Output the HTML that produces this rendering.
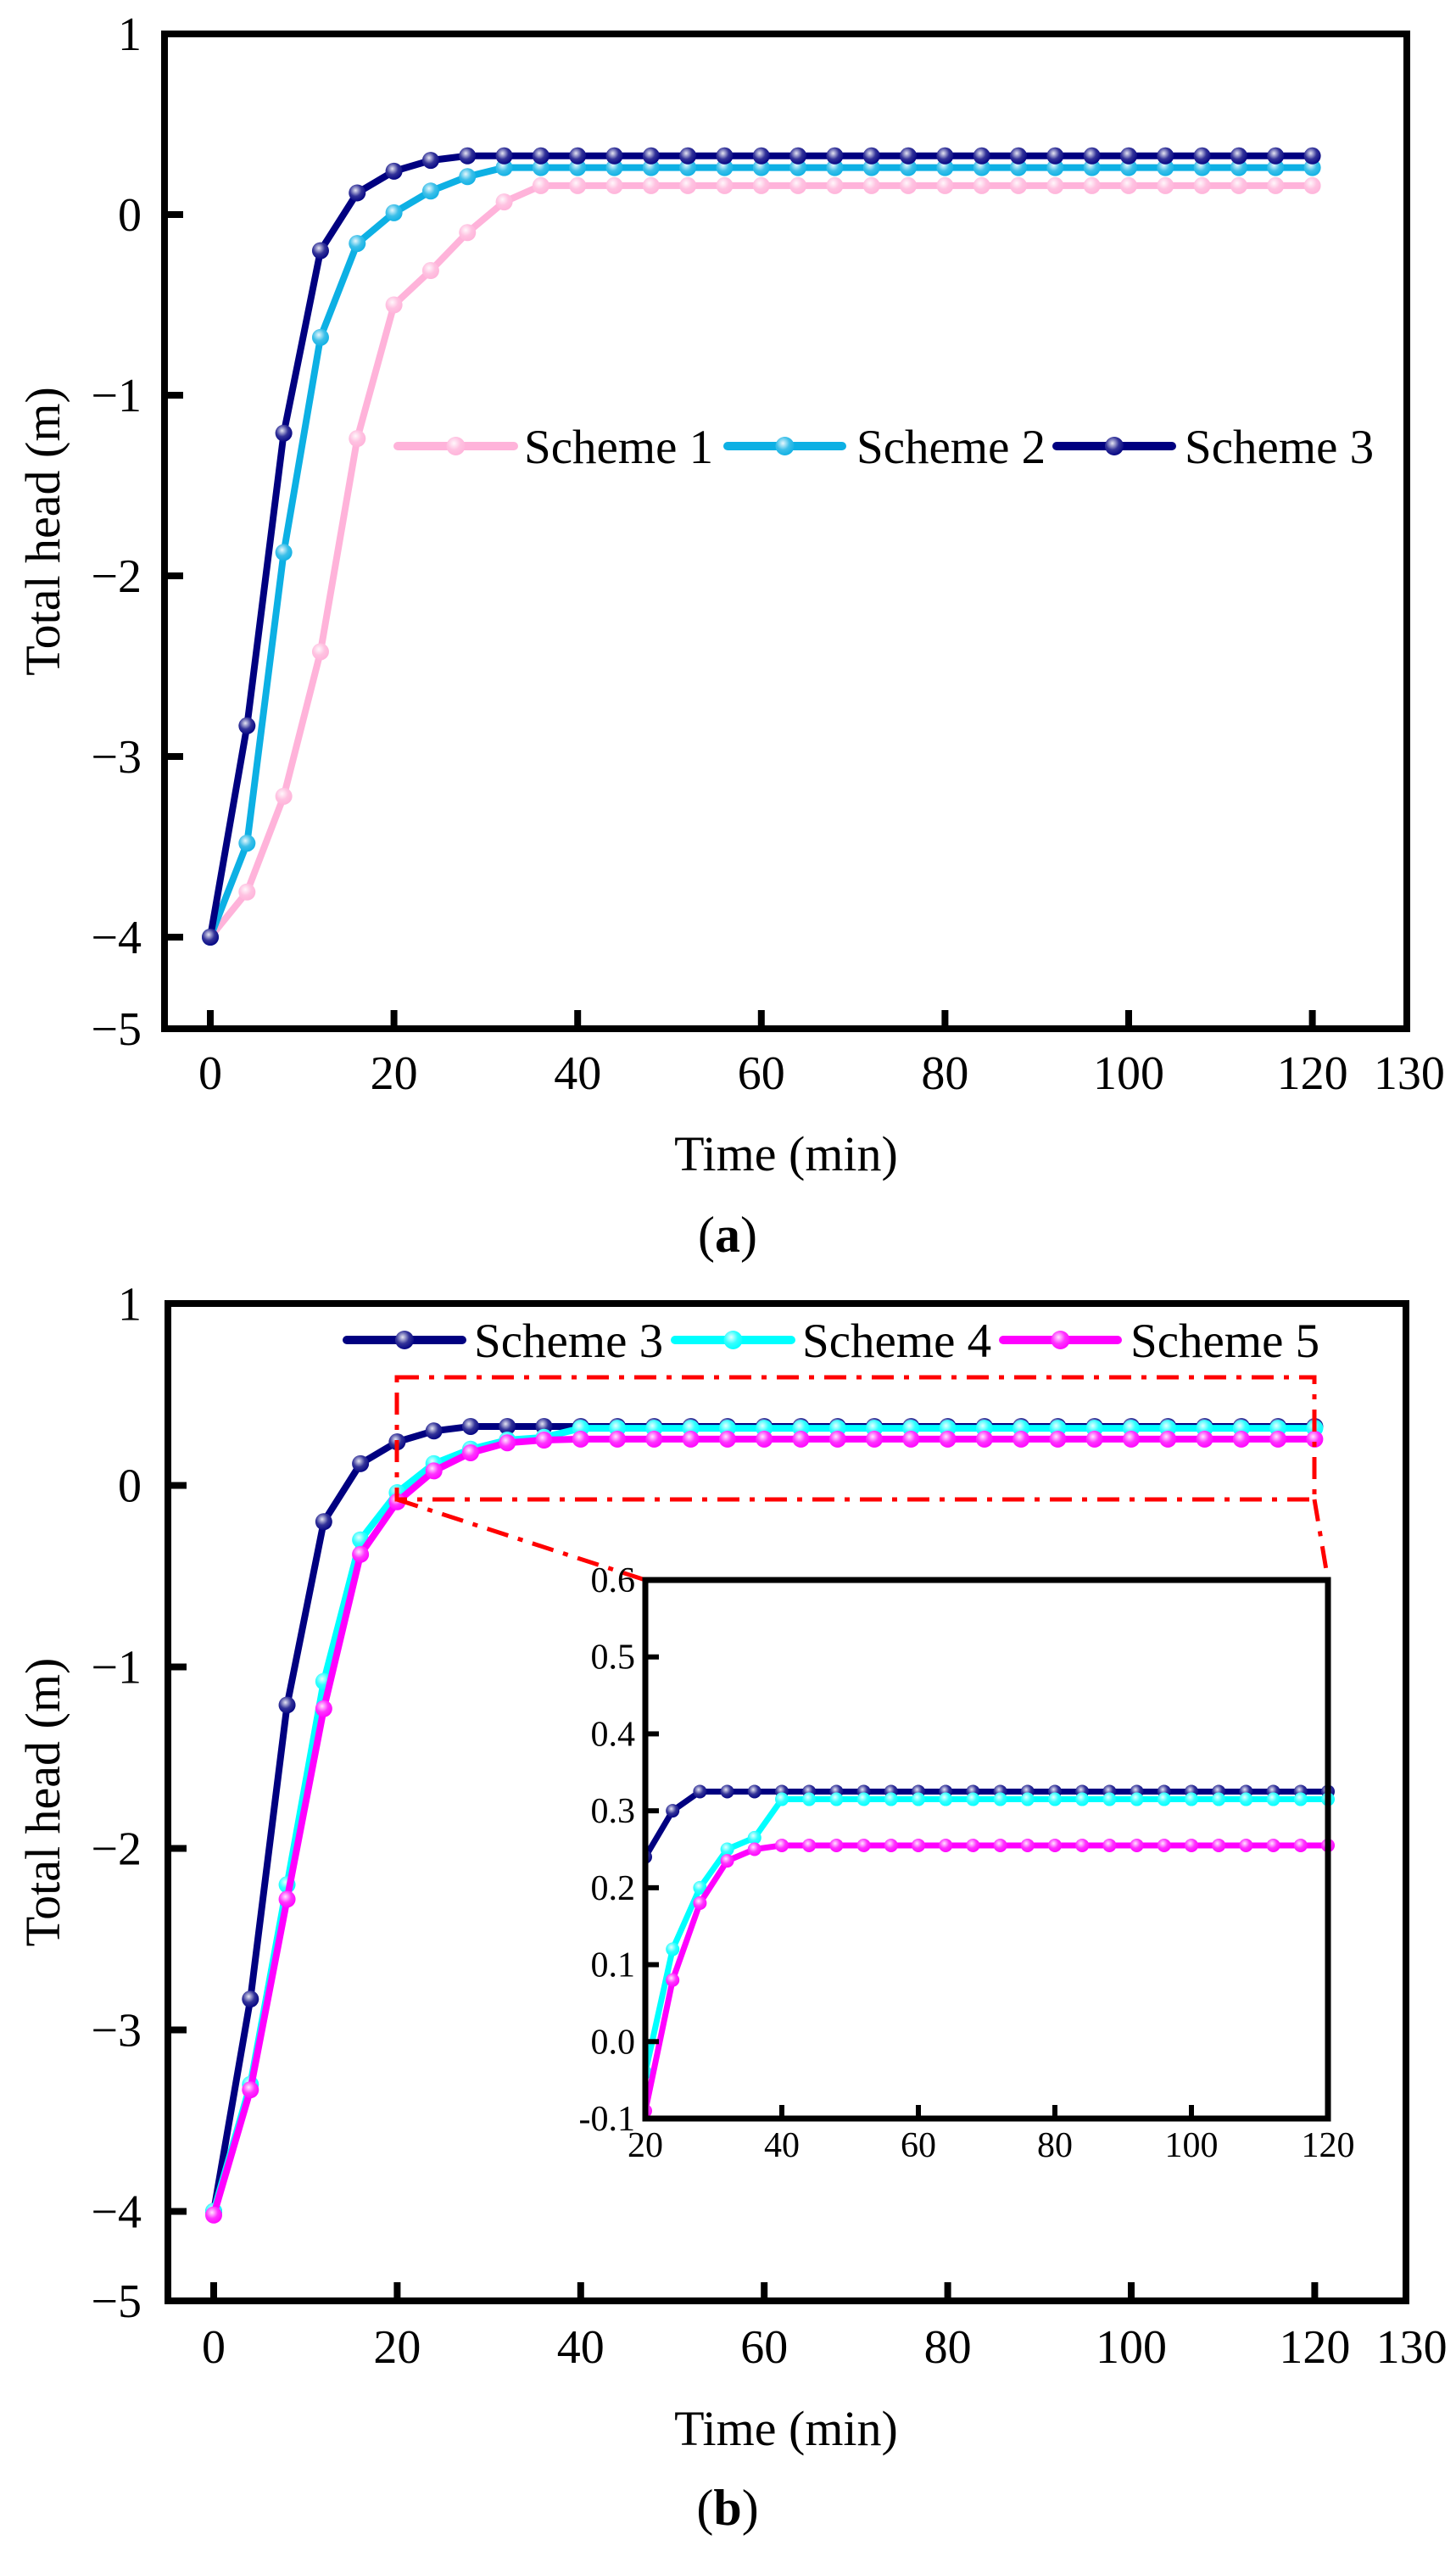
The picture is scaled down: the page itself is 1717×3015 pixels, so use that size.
<!DOCTYPE html>
<html><head><meta charset="utf-8"><style>
html,body{margin:0;padding:0;background:#fff;overflow:hidden}
svg{display:block}
text{font-family:"Liberation Serif",serif;fill:#000}
</style></head><body>
<svg id="s" width="1717" height="3015" xmlns="http://www.w3.org/2000/svg">
<defs>
<radialGradient id="g" cx="0.4" cy="0.35" r="0.7"><stop offset="0" stop-color="#fff" stop-opacity="0.9"/><stop offset="0.5" stop-color="#fff" stop-opacity="0.2"/><stop offset="1" stop-color="#fff" stop-opacity="0"/></radialGradient>
<clipPath id="ic"><rect x="761" y="1863" width="820" height="635"/></clipPath>
</defs>
</svg>
<script>
const S=document.getElementById('s');const NS='http://www.w3.org/2000/svg';
function el(t,a,p){const e=document.createElementNS(NS,t);for(const k in a)e.setAttribute(k,a[k]);(p||S).appendChild(e);return e}
function txt(x,y,s,size,anchor,extra){const e=el('text',Object.assign({x:x,y:y,'font-size':size,'text-anchor':anchor||'middle'},extra||{}));e.textContent=s;return e}
const T=[];for(let t=0;t<=120;t+=4)T.push(t);
function ext(a,v){while(a.length<T.length)a.push(v);return a}
const s1=ext([-4,-3.75,-3.22,-2.42,-1.24,-0.5,-0.31,-0.1,0.07,0.16],0.16);
const s2=ext([-4,-3.48,-1.87,-0.68,-0.16,0.01,0.13,0.21,0.26],0.26);
const s3=ext([-4,-2.83,-1.21,-0.2,0.12,0.24,0.30,0.325],0.325);
const s4=ext([-4,-3.3,-2.2,-1.08,-0.3,-0.04,0.12,0.2,0.25,0.265,0.315],0.315);
const s5=ext([-4.02,-3.33,-2.28,-1.23,-0.38,-0.09,0.08,0.18,0.235,0.25,0.255],0.255);
const C={1:'#ffb3da',2:'#0db0e4',3:'#000080',4:'#00ffff',5:'#ff00ff'};
function series(d,col,fx,fy,r,w,clip){
  const g=el('g',clip?{'clip-path':clip}:{});
  let pts=[];T.forEach((t,i)=>{pts.push(fx(t)+','+fy(d[i]))});
  el('polyline',{points:pts.join(' '),fill:'none',stroke:col,'stroke-width':w,'stroke-linejoin':'round'},g);
  T.forEach((t,i)=>{const x=fx(t),y=fy(d[i]);el('circle',{cx:x,cy:y,r:r,fill:col},g);el('circle',{cx:x,cy:y,r:r,fill:'url(#g)'},g);});
}
function axes(L,R,Tp,B,fx,fy,lab,xl,tl,cl){
  el('rect',{x:L,y:Tp,width:R-L,height:B-Tp,fill:'none',stroke:'#000','stroke-width':8});
  for(let v=-5;v<=1;v++){const y=v==-5?B:fy(v);
    if(v>-5&&v<1)el('line',{x1:L,y1:y,x2:L+22,y2:y,stroke:'#000','stroke-width':8});
    txt(167,y+19,v<0?'\u2212'+(-v):''+v,56,'end');}
  for(let t=0;t<=120;t+=20){const x=fx(t);el('line',{x1:x,y1:B,x2:x,y2:B-22,stroke:'#000','stroke-width':8});txt(x,xl+19,''+t,56);}
  txt(fx(130)+6,xl+19,'130',56);
  txt(927,tl+19,'Time (min)',58);
  txt(0,0,'Total head (m)',58,'middle',{transform:'translate(70,'+((Tp+B)/2)+') rotate(-90)'});
  const c=txt(858,cl+20,'',60);c.innerHTML='(<tspan font-weight="bold">'+lab+'</tspan>)';
}
function legend(items,y){items.forEach(([x1,x2,tx,name,col])=>{el('line',{x1:x1,y1:y,x2:x2,y2:y,stroke:col,'stroke-width':10,'stroke-linecap':'round'});
  el('circle',{cx:(x1+x2)/2,cy:y,r:11,fill:col});el('circle',{cx:(x1+x2)/2,cy:y,r:11,fill:'url(#g)'});txt(tx,y+20,name,57,'start');});}
// Plot a
{const fx=t=>248+t*10.83, fy=v=>253-v*213;
 axes(194,1659,40,1213,fx,fy,'a',1265,1361,1456);
 series(s1,C[1],fx,fy,10,8);series(s2,C[2],fx,fy,10,8);series(s3,C[3],fx,fy,10,8);
 legend([[469,606,618,'Scheme 1',C[1]],[858,993,1010,'Scheme 2',C[2]],[1246,1382,1397,'Scheme 3',C[3]]],526);
}
// Plot b
{const fx=t=>252+t*10.82, fy=v=>1751.5-v*214;
 axes(198,1658,1537,2713,fx,fy,'b',2767,2864,2957);
 series(s3,C[3],fx,fy,10,8);series(s4,C[4],fx,fy,10,8);series(s5,C[5],fx,fy,10,8);
 legend([[409,545,559,'Scheme 3',C[3]],[796,933,946,'Scheme 4',C[4]],[1183,1318,1333,'Scheme 5',C[5]]],1580);
 const da='26,12,6,12';
 el('rect',{x:468,y:1624,width:1082,height:144,fill:'none',stroke:'#f00','stroke-width':5,'stroke-dasharray':da});
 el('line',{x1:468,y1:1768,x2:761,y2:1863,stroke:'#f00','stroke-width':5,'stroke-dasharray':da});
 el('line',{x1:1550,y1:1768,x2:1566,y2:1863,stroke:'#f00','stroke-width':5,'stroke-dasharray':da});
 const L=761,R=1566,Tp=1863,B=2498;
 el('rect',{x:L,y:Tp,width:R-L,height:B-Tp,fill:'#fff',stroke:'none'});
 const ix=t=>L+(t-20)*(R-L)/100, iy=v=>B-(v+0.1)*(B-Tp)/0.7;
 series(s3,C[3],ix,iy,8,7,'url(#ic)');series(s4,C[4],ix,iy,8,7,'url(#ic)');series(s5,C[5],ix,iy,8,7,'url(#ic)');
 el('rect',{x:L,y:Tp,width:R-L,height:B-Tp,fill:'none',stroke:'#000','stroke-width':7});
 const yl=['-0.1','0.0','0.1','0.2','0.3','0.4','0.5','0.6'];
 yl.forEach((s,i)=>{const y=iy(-0.1+i*0.1);el('line',{x1:L,y1:y,x2:L+16,y2:y,stroke:'#000','stroke-width':6});txt(L-12,y+14,s,42,'end');});
 for(let t=20;t<=120;t+=20){const x=ix(t);el('line',{x1:x,y1:B,x2:x,y2:B-16,stroke:'#000','stroke-width':6});txt(x,2529+14,''+t,42);}
}
</script>
</body></html>
